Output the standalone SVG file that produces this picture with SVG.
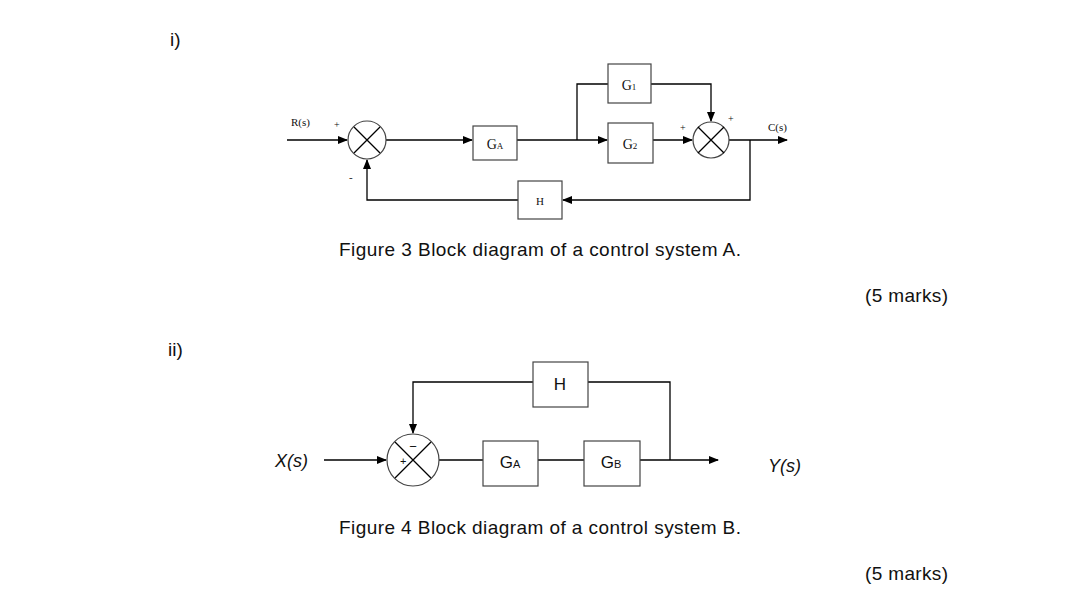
<svg xmlns="http://www.w3.org/2000/svg" width="1079" height="598" viewBox="0 0 1079 598">
<style>
.l{stroke:#000;stroke-width:1.3;fill:none}
.b{stroke:#444;stroke-width:1.2;fill:#fff}
.s{font-family:"Liberation Serif",serif;fill:#111}
.a{font-family:"Liberation Sans",Arial,sans-serif;fill:#111}
</style>
<defs><marker id="ar" markerWidth="10" markerHeight="8" refX="9" refY="4" orient="auto" markerUnits="userSpaceOnUse"><path d="M0,0L10,4L0,8z" fill="#000"/></marker></defs>
<rect width="1079" height="598" fill="#fff"/>
<text class="a" x="170" y="46" font-size="19">i)</text>
<text class="a" x="168" y="356" font-size="19">ii)</text>
<text class="a" x="339" y="256" font-size="19" textLength="402">Figure 3 Block diagram of a control system A.</text>
<text class="a" x="339" y="534" font-size="19" textLength="402">Figure 4 Block diagram of a control system B.</text>
<text class="a" x="865" y="302" font-size="19" textLength="83">(5 marks)</text>
<text class="a" x="865" y="580" font-size="19" textLength="83">(5 marks)</text>
<g id="connectorsA">
<path class="l" d="M287,140H347" marker-end="url(#ar)"/>
<path class="l" d="M386,140H472" marker-end="url(#ar)"/>
<path class="l" d="M517,140H607" marker-end="url(#ar)"/>
<path class="l" d="M577,140V84H608"/>
<path class="l" d="M651,84H711V121" marker-end="url(#ar)"/>
<path class="l" d="M653,140H692" marker-end="url(#ar)"/>
<path class="l" d="M729,140H787" marker-end="url(#ar)"/>
<path class="l" d="M750,140V200H563" marker-end="url(#ar)"/>
<path class="l" d="M518,200H367V160" marker-end="url(#ar)"/>
</g>
<g id="sumA1"><circle class="b" cx="367" cy="140" r="19"/><path class="l" d="M354,127L380,153M380,127L354,153"/></g>
<g id="GA1"><rect class="b" x="473" y="126" width="44" height="34"/><text class="s" x="495" y="149" font-size="14" text-anchor="middle">G<tspan font-size="9">A</tspan></text></g>
<g id="G1"><rect class="b" x="608" y="64" width="43" height="39"/><text class="s" x="629" y="90" font-size="14" text-anchor="middle">G<tspan font-size="9">1</tspan></text></g>
<g id="G2"><rect class="b" x="608" y="123" width="45" height="40"/><text class="s" x="630" y="149" font-size="14" text-anchor="middle">G<tspan font-size="9">2</tspan></text></g>
<g id="sumA2"><circle class="b" cx="711" cy="140" r="18"/><path class="l" d="M698,127L724,153M724,127L698,153"/></g>
<g id="H1"><rect class="b" x="518" y="181" width="44" height="38"/><text class="s" x="540" y="205" font-size="11" text-anchor="middle">H</text></g>
<g id="labelsA">
<text class="s" x="291" y="126" font-size="11">R(s)</text>
<text class="s" x="768" y="131" font-size="11">C(s)</text>
<text class="s" x="334" y="128" font-size="10">+</text>
<text class="s" x="349" y="181" font-size="11">-</text>
<text class="s" x="680" y="131" font-size="10">+</text>
<text class="s" x="728" y="122" font-size="10">+</text>
</g>
<g id="connectorsB">
<path class="l" d="M324,460H386" marker-end="url(#ar)"/>
<path class="l" d="M439,460H483M538,460H584"/>
<path class="l" d="M640,460H718" marker-end="url(#ar)"/>
<path class="l" d="M670,460V382H588"/>
<path class="l" d="M533,382H413V433" marker-end="url(#ar)"/>
</g>
<g id="sumB"><circle class="b" cx="413" cy="460" r="26"/><path class="l" d="M395,442L431,478M431,442L395,478"/><text class="a" x="400" y="465" font-size="11">+</text><text class="a" x="413" y="451" font-size="13" text-anchor="middle">−</text></g>
<g id="GA2"><rect class="b" x="483" y="441" width="55" height="45"/><text class="a" x="510" y="468" font-size="17" text-anchor="middle">G<tspan font-size="11">A</tspan></text></g>
<g id="GB"><rect class="b" x="584" y="441" width="56" height="45"/><text class="a" x="611" y="468" font-size="17" text-anchor="middle">G<tspan font-size="11">B</tspan></text></g>
<g id="H2"><rect class="b" x="533" y="362" width="55" height="45"/><text class="a" x="560" y="390" font-size="17" text-anchor="middle">H</text></g>
<text class="a" x="275" y="467" font-size="18" font-style="italic">X(s)</text>
<text class="a" x="768" y="472" font-size="18" font-style="italic">Y(s)</text>
</svg>
